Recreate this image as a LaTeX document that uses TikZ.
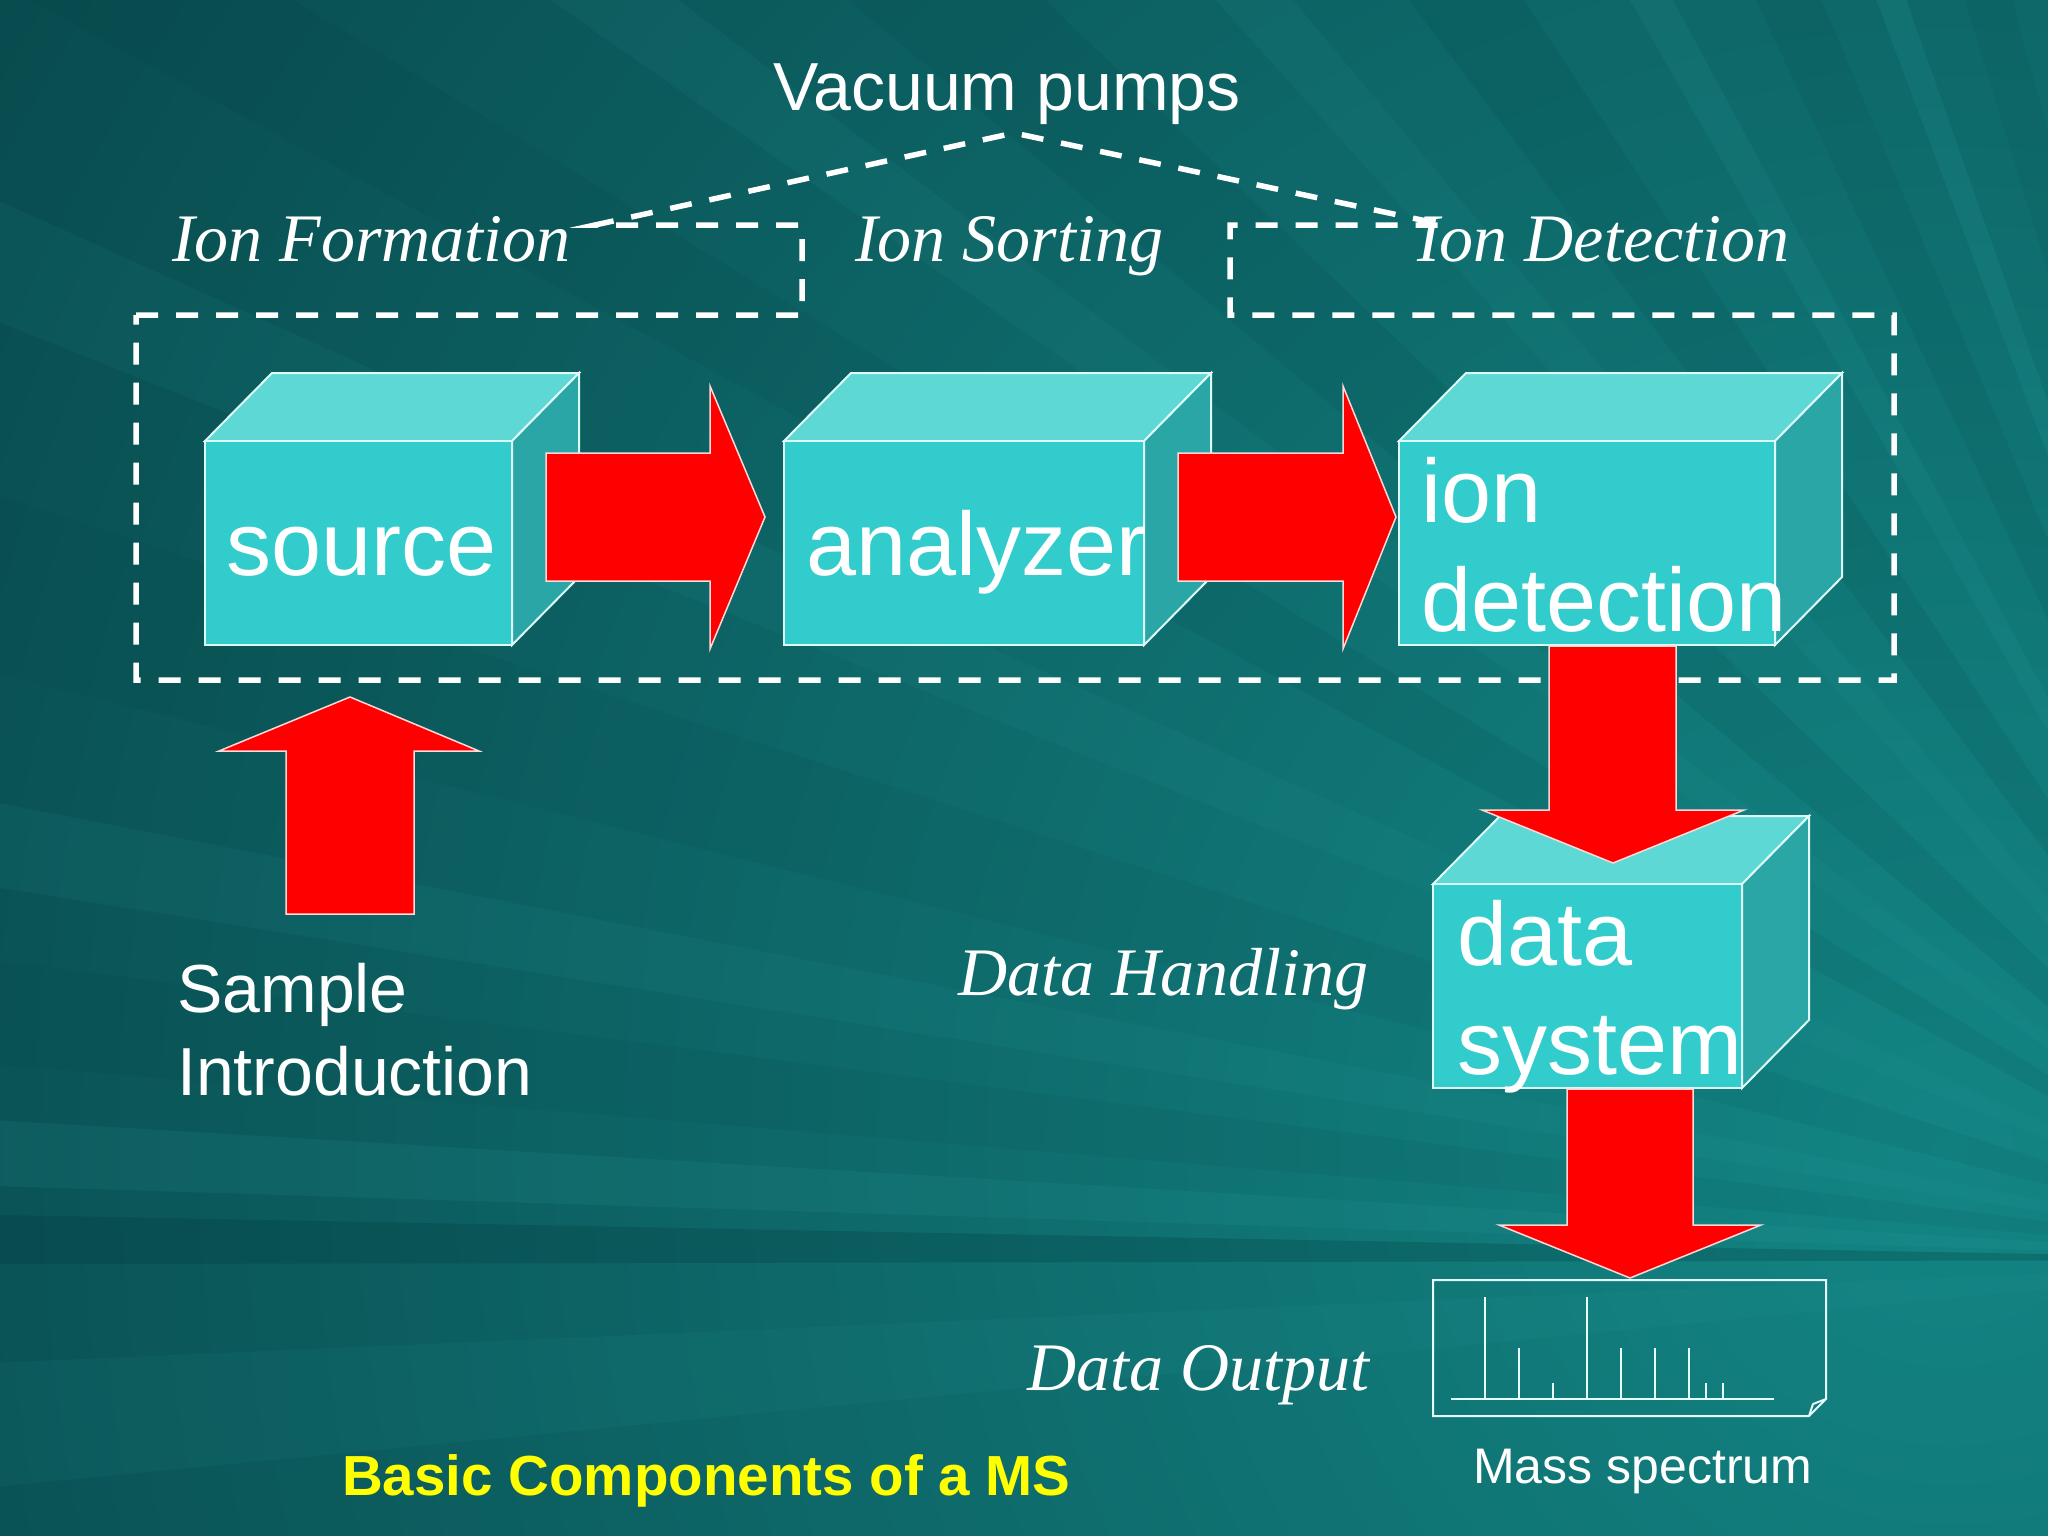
\documentclass[tikz,border=0pt]{standalone}
\usepackage{fontspec}
\setmainfont{Liberation Sans}
\newfontfamily\tnr{Liberation Serif}
\definecolor{bgin}{HTML}{138584}
\definecolor{bgout}{HTML}{08484B}
\definecolor{raylight}{HTML}{2FA5A5}
\definecolor{raydark}{HTML}{03383B}
\definecolor{cfront}{HTML}{33CCCC}
\definecolor{ctop}{HTML}{5ED8D5}
\definecolor{cside}{HTML}{2BA6A6}
\definecolor{cedge}{HTML}{DDFAF8}
\definecolor{redfill}{HTML}{FF0000}
\definecolor{redline}{HTML}{FFD8D8}
\definecolor{ttl}{HTML}{FFFF00}
\definecolor{specline}{HTML}{E6FFFF}
\tikzset{
  facefront/.style={fill=cfront, draw=cedge, line width=2pt, line join=miter},
  facetop/.style={fill=ctop, draw=cedge, line width=2pt, line join=miter},
  faceside/.style={fill=cside, draw=cedge, line width=2pt, line join=miter},
  blockarrow/.style={fill=redfill, draw=redline, line width=1.5pt, line join=miter},
  vacdash/.style={draw=white, line width=5.5pt, dash pattern=on 22pt off 18pt},
  boxlabel/.style={anchor=base west, inner sep=0pt, text=white, font=\fontsize{90}{108}\selectfont},
  sanslabel/.style={anchor=base west, inner sep=0pt, text=white, font=\fontsize{68}{80}\selectfont},
  itlabel/.style={anchor=base west, inner sep=0pt, text=white, font=\tnr\itshape\fontsize{68}{80}\selectfont},
  specpen/.style={draw=specline, line width=2pt},
}
% cube: name, x1, y1, x2, y2 (front face)
\newcommand\mscube[5]{%
  \filldraw[facetop] (#2,#3) -- ({#2+67},{#3-68}) -- ({#4+67},{#3-68}) -- (#4,#3) -- cycle;
  \filldraw[faceside] (#4,#3) -- ({#4+67},{#3-68}) -- ({#4+67},{#5-68}) -- (#4,#5) -- cycle;
  \filldraw[facefront] (#2,#3) rectangle (#4,#5);
  \coordinate (#1) at ({(#2+#4)/2},{(#3+#5)/2});
}
\begin{document}
\begin{tikzpicture}[x=1pt,y=-1pt]
\useasboundingbox (0,0) rectangle (2048,1536);
% background
\begin{scope}
\clip (0,0) rectangle (2048,1536);
\fill[bgout] (0,0) rectangle (2048,1536);
\shade[inner color=bgin, outer color=bgout] (1950,1150) circle (2400);
\coordinate (F) at (2350,1260);
\foreach \ang/\wd/\col/\op in {
  176/3/raylight/0.08, 180.5/1.2/raydark/0.25, 182.6/1.6/raylight/0.12, 186/2.5/raydark/0.07,
  190/2/raylight/0.09, 196/4/raydark/0.07, 203/2.5/raylight/0.08,
  210/3/raydark/0.09, 216/2/raylight/0.09, 222/4/raydark/0.1,
  229/2/raylight/0.09, 235/3.5/raydark/0.11, 241/1.5/raylight/0.12,
  246/2.5/raydark/0.09, 250/1.2/raylight/0.15, 254/2/raydark/0.07,
  257.5/1/raylight/0.17, 261/1.5/raylight/0.12, 265/2/raydark/0.07,
  268.5/0.8/raylight/0.15}
{
  \fill[\col, opacity=\op] (F) -- ([shift={(F)}]{\ang-\wd/2}:4000) -- ([shift={(F)}]{\ang+\wd/2}:4000) -- cycle;
}
\end{scope}
% dashed vacuum enclosure
\draw[vacdash] (136,315) -- (802,315) -- (802,225) -- (595,225) -- (1014,133)
  -- (1445,225) -- (1230,225) -- (1230,315) -- (1894,315) -- (1894,680) -- (136,680) -- cycle;
% cubes
\mscube{src}{205}{441}{512}{645}
\mscube{ana}{784}{441}{1144}{645}
\mscube{det}{1399}{441}{1775}{645}
\mscube{dsys}{1433}{884}{1742}{1088}
% arrows
\filldraw[blockarrow] (546,453) -- (710,453) -- (710,386) -- (765,517) -- (710,649) -- (710,581) -- (546,581) -- cycle;
\filldraw[blockarrow] (1178,453) -- (1343,453) -- (1343,386) -- (1396,517) -- (1343,649) -- (1343,581) -- (1178,581) -- cycle;
\filldraw[blockarrow] (286,914) -- (286,751) -- (219,751) -- (350,697) -- (479,751) -- (414,751) -- (414,914) -- cycle;
\filldraw[blockarrow] (1549,646) -- (1676,646) -- (1676,810) -- (1744,810) -- (1613,863) -- (1482,810) -- (1549,810) -- cycle;
\filldraw[blockarrow] (1567,1089) -- (1693,1089) -- (1693,1225) -- (1761,1225) -- (1630,1278) -- (1499,1225) -- (1567,1225) -- cycle;
% mass spectrum
\draw[specpen, line join=miter] (1433,1280) -- (1826,1280) -- (1826,1399) -- (1809,1416) -- (1433,1416) -- cycle;
\draw[specpen, line join=round] (1826,1399) -- (1813,1404) -- (1809,1416);
\draw[specpen] (1451,1399) -- (1774,1399);
\foreach \px/\py in {1485/1297,1519/1348,1553/1383,1587/1297,1621/1348,1655/1348,1689/1348,1706/1383,1723/1383}
  \draw[specpen] (\px,1399) -- (\px,\py);
% labels
\node[sanslabel] (vac) at (773,111) {Vacuum pumps};
\node[itlabel] (iform) at (172,261) {Ion Formation};
\node[itlabel] (isort) at (855,261) {Ion Sorting};
\node[itlabel] (idet) at (1417,261) {Ion Detection};
\node[boxlabel] (tsrc) at (226,575) {source};
\node[boxlabel] (tana) at (806,575) {analyzer};
\node[boxlabel] (tion) at (1421,522) {ion};
\node[boxlabel] (tdet) at (1421,631) {detection};
\node[boxlabel] (tdata) at (1457,965) {data};
\node[boxlabel] (tsys) at (1457,1074) {system};
\node[itlabel] (dhand) at (958,995) {Data Handling};
\node[itlabel] (dout) at (1027,1390) {Data Output};
\node[sanslabel] (samp) at (177,1012) {Sample};
\node[sanslabel] (intro) at (177,1095) {Introduction};
\node[anchor=base west, inner sep=0pt, text=white, font=\fontsize{50}{60}\selectfont] (mspec) at (1473,1483) {Mass spectrum};
\node[anchor=base west, inner sep=0pt, text=ttl, font=\bfseries\fontsize{56.5}{66}\selectfont] (title) at (342,1495) {Basic Components of a MS};
\end{tikzpicture}
\end{document}
